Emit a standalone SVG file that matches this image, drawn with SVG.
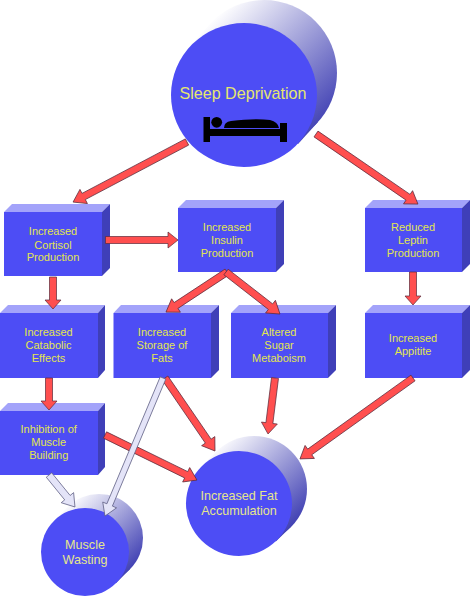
<svg xmlns="http://www.w3.org/2000/svg" width="470" height="597" viewBox="0 0 470 597">
<style>
.f{fill:#4D4DF5}.t{fill:#A3A3FA}.s{fill:#3F3FB8}
text{font-family:"Liberation Sans",Arial,sans-serif;font-size:11px;fill:#E3E64F;text-anchor:middle}
.c{font-size:12.6px;fill:#E6E68C}
.r{fill:#FF4F4F;stroke:#5A2A3A;stroke-width:.7}
.w{fill:#E4E4F8;stroke:#5A5A80;stroke-width:.7}
</style>
<defs>
<linearGradient id="g1" gradientUnits="userSpaceOnUse" x1="205" y1="15" x2="322" y2="135"><stop offset="0.05" stop-color="#FFFFFF"/><stop offset="1" stop-color="#3838B0"/></linearGradient>
<linearGradient id="g2" gradientUnits="userSpaceOnUse" x1="208" y1="445" x2="293" y2="533"><stop offset="0.05" stop-color="#FFFFFF"/><stop offset="1" stop-color="#3838B0"/></linearGradient>
<linearGradient id="g3" gradientUnits="userSpaceOnUse" x1="62" y1="502" x2="133" y2="573"><stop offset="0.05" stop-color="#FFFFFF"/><stop offset="1" stop-color="#3838B0"/></linearGradient>
</defs>
<rect width="470" height="597" fill="#fff"/>
<g id="n-sleep"><circle cx="264" cy="73" r="73" fill="url(#g1)"/><polygon fill="url(#g1)" points="298,144 318,122 210,24 190,46"/><ellipse class="f" cx="244" cy="95" rx="73" ry="72"/>
<text x="243" y="99" style="font-size:16.100px;fill:#E6E66E">Sleep Deprivation</text>
<g fill="#000"><rect x="203.500" y="117" width="6.500" height="25"/><rect x="280" y="123" width="7" height="19"/><rect x="210" y="129" width="70" height="7"/><circle cx="216.700" cy="122.300" r="5.400"/><path d="M224 128Q224 122 231 121Q255 118 270 120Q278 122 279 128Z"/></g></g>
<g id="n-cortisol"><path class="t" d="M4 212L12 204H110L102 212Z"/><path class="s" d="M102 212L110 204V268L102 276Z"/><rect class="f" x="4" y="212" width="98" height="64"/><text x="53" y="235">Increased</text><text x="53" y="248.500">Cortisol</text><text x="53" y="261">Production</text></g>
<g id="n-insulin"><path class="t" d="M178 208L186 200H284L276 208Z"/><path class="s" d="M276 208L284 200V264L276 272Z"/><rect class="f" x="178" y="208" width="98" height="64"/><text x="227" y="231">Increased</text><text x="227" y="244">Insulin</text><text x="227" y="257">Production</text></g>
<g id="n-leptin"><path class="t" d="M365 208L373 200H470L462 208Z"/><path class="s" d="M462 208L470 200V264L462 272Z"/><rect class="f" x="365" y="208" width="97" height="64"/><text x="413" y="231">Reduced</text><text x="413" y="244">Leptin</text><text x="413" y="257">Production</text></g>
<g id="n-catabolic"><path class="t" d="M0 313L8 305H105L98 313Z"/><path class="s" d="M98 313L105 305V370L98 378Z"/><rect class="f" x="0" y="313" width="98" height="65"/><text x="48.500" y="336">Increased</text><text x="48.500" y="349">Catabolic</text><text x="48.500" y="362">Effects</text></g>
<g id="n-storage"><path class="t" d="M113.500 313L121 305H219L211 313Z"/><path class="s" d="M211 313L219 305V370L211 378Z"/><rect class="f" x="113.500" y="313" width="97.500" height="65"/><text x="162" y="336">Increased</text><text x="162" y="349">Storage of</text><text x="162" y="362">Fats</text></g>
<g id="n-altered"><path class="t" d="M231 313L239 305H336L328 313Z"/><path class="s" d="M328 313L336 305V370L328 378Z"/><rect class="f" x="231" y="313" width="97" height="65"/><text x="279" y="336">Altered</text><text x="279" y="349">Sugar</text><text x="279" y="362">Metaboism</text></g>
<g id="n-appitite"><path class="t" d="M365 313L373 305H470L462 313Z"/><path class="s" d="M462 313L470 305V370L462 378Z"/><rect class="f" x="365" y="313" width="97" height="65"/><text x="413" y="342">Increased</text><text x="413" y="355">Appitite</text></g>
<g id="n-inhibition"><path class="t" d="M0 411L8 403H105L98 411Z"/><path class="s" d="M98 411L105 403V467L98 475Z"/><rect class="f" x="0" y="411" width="98" height="64"/><text x="48.700" y="433">Inhibition of</text><text x="48.700" y="446">Muscle</text><text x="48.700" y="459">Building</text></g>
<g id="n-wasting"><circle cx="99" cy="538" r="44" fill="url(#g3)"/><polygon fill="url(#g3)" points="116.100,583.100 130.100,569.100 67.900,506.900 53.900,520.900"/><circle class="f" cx="85" cy="552" r="44"/><text class="c" x="85" y="548.500">Muscle</text><text class="c" x="85" y="563.500">Wasting</text></g>
<g id="n-fat"><circle cx="254" cy="489" r="53" fill="url(#g2)"/><polygon fill="url(#g2)" points="275.800,541.600 290.800,527.100 217.200,450.900 202.200,465.400"/><ellipse class="f" cx="239" cy="503.500" rx="53" ry="52.500"/><text class="c" x="239" y="499.500">Increased Fat</text><text class="c" x="239" y="514.500">Accumulation</text></g>
<g id="connectors">
<polygon class="r" transform="translate(187 142) rotate(152.200)" points="0,-3.500 116.800,-3.500 116.800,-8 128.800,0 116.800,8 116.800,3.500 0,3.500"/>
<polygon class="r" transform="translate(316 134) rotate(34.500)" points="0,-3.500 111.700,-3.500 111.700,-8 123.700,0 111.700,8 111.700,3.500 0,3.500"/>
<polygon class="r" transform="translate(105.500 240)" points="0,-3.500 62.500,-3.500 62.500,-8 72.500,0 62.500,8 62.500,3.500 0,3.500"/>
<polygon class="r" transform="translate(53 277) rotate(90)" points="0,-3.500 23,-3.500 23,-8 32,0 23,8 23,3.500 0,3.500"/>
<polygon class="r" transform="translate(227 272) rotate(146.700)" points="0,-3.500 61,-3.500 61,-8 73,0 61,8 61,3.500 0,3.500"/>
<polygon class="r" transform="translate(226 272) rotate(37.900)" points="0,-3.500 56.400,-3.500 56.400,-8 68.400,0 56.400,8 56.400,3.500 0,3.500"/>
<polygon class="r" transform="translate(413 272) rotate(90)" points="0,-3.500 24,-3.500 24,-8 33,0 24,8 24,3.500 0,3.500"/>
<polygon class="r" transform="translate(49 378) rotate(90)" points="0,-3.500 23,-3.500 23,-8 32,0 23,8 23,3.500 0,3.500"/>
<polygon class="r" transform="translate(165 378) rotate(55.600)" points="0,-3.500 76.500,-3.500 76.500,-8 88.500,0 76.500,8 76.500,3.500 0,3.500"/>
<polygon class="r" transform="translate(275 378) rotate(97.100)" points="0,-3.500 45.400,-3.500 45.400,-8 56.400,0 45.400,8 45.400,3.500 0,3.500"/>
<polygon class="r" transform="translate(413 378) rotate(144.400)" points="0,-3.500 127,-3.500 127,-8 139,0 127,8 127,3.500 0,3.500"/>
<polygon class="r" transform="translate(105 435) rotate(26.100)" points="0,-3.500 90.400,-3.500 90.400,-8 102.400,0 90.400,8 90.400,3.500 0,3.500"/>
<polygon class="w" transform="translate(49 475) rotate(50.900)" points="0,-3.500 29.200,-3.500 29.200,-8 41.200,0 29.200,8 29.200,3.500 0,3.500"/>
<polygon class="w" transform="translate(163 378) rotate(112.800)" points="0,-3 137.700,-3 137.700,-7.500 149.700,0 137.700,7.500 137.700,3 0,3"/>
</g>
</svg>
